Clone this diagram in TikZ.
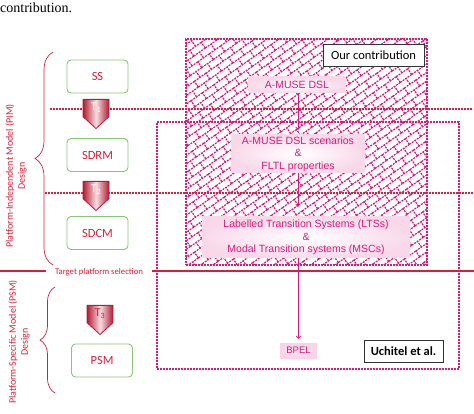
\documentclass[tikz,border=0pt]{standalone}
\usepackage{fontspec}
\setmainfont{Liberation Serif}
\setsansfont{Carlito}
\newfontfamily\arialfont{Liberation Sans}
\definecolor{pimred}{HTML}{D1213D}
\definecolor{boxgreen}{HTML}{86C873}
\definecolor{musemag}{HTML}{D01C7E}
\definecolor{glowpink}{HTML}{F6C9E0}
\usepackage{tikz}
\usetikzlibrary{positioning,arrows.meta,shapes.symbols,decorations.pathreplacing,patterns.meta}

\tikzdeclarepattern{
  name=slantbricks,
  type=colored,
  bounding box={(-1pt,-1pt) and (15pt,15pt)},
  tile size={(14pt,14pt)},
  tile transformation={rotate=35},
  code={
    \draw[musemag, line width=1.2pt] (0pt,0pt) -- (14pt,0pt) (0pt,7pt) -- (14pt,7pt)
      (0pt,0pt) -- (0pt,7pt) (7pt,7pt) -- (7pt,14pt);
  }
}

\begin{document}
\begin{tikzpicture}[x=1pt, y=-1pt,
  every node/.style={font=\sffamily},
  model/.style={rectangle, rounded corners=4pt, draw=boxgreen, line width=0.9pt,
                fill=white, text=pimred, minimum width=61pt, minimum height=33pt,
                font=\sffamily\fontsize{12.5}{14}\selectfont},
  trans/.style={signal, signal to=south, signal pointer angle=95,
                draw=pimred!85!black, line width=0.8pt, left color=pimred!85!black,
                right color=pimred!85!black, middle color=pimred!15, text=white,
                minimum width=26pt, minimum height=22pt, inner sep=0pt,
                font=\sffamily\fontsize{12}{14}\selectfont},
  phase/.style={rotate=90, align=center, text=pimred,
                font=\sffamily\fontsize{10}{12}\selectfont},
  brace/.style={decorate, decoration={brace, amplitude=17pt}, draw=pimred,
                line width=0.7pt},
  sepline/.style={pimred, dash pattern=on 2pt off 1pt, line width=1.3pt},
  frame/.style={draw, color=musemag, dash pattern=on 2pt off 1pt, line width=1.1pt},
  glow/.style={rectangle, inner color=white, outer color=glowpink!70, text=musemag,
               align=center, inner sep=1pt,
               font=\arialfont\fontsize{10.5}{12.5}\selectfont},
  tag/.style={rectangle, draw=black!80, fill=white, line width=0.8pt,
              minimum height=22pt, font=\sffamily\fontsize{12.5}{14}\selectfont},
  arr/.style={-{To[length=3pt,width=5pt]}, musemag, line width=0.8pt}
]
  \useasboundingbox (0,0) rectangle (474,414);

  \node[anchor=base west, inner sep=0pt, font=\rmfamily\fontsize{14}{16}\selectfont]
    (cap) at (0,13) {contribution.};

  \node[phase] (pim) at (16,176) {Platform-Independent Model (PIM)\\Design};
  \node[phase] (psm) at (19,342) {Platform-Specific Model (PSM)\\Design};
  \draw[brace, decoration={amplitude=18pt}] (53,265) -- (53,52);
  \draw[brace, decoration={amplitude=15pt}] (55,393) -- (55,287);

  \node[frame, pattern=slantbricks, minimum width=241pt,
        minimum height=226pt] (ours) at (306.5,152) {};
  \node[frame, minimum width=302pt, minimum height=247pt] (uch) at (308,245.5) {};

  \coordinate (t1l) at (50,109);  \coordinate (t1r) at (473,109);
  \coordinate (t2l) at (45,193);  \coordinate (t2r) at (473,193);
  \coordinate (tpl) at (0,271);   \coordinate (tpr) at (474,271);
  \draw[sepline] (t1l) -- (t1r);
  \draw[sepline] (t2l) -- (t2r);
  \draw[pimred, line width=1.1pt] (tpl) -- (tpr);
  \node[fill=white, text=pimred, inner xsep=9pt, inner ysep=1pt,
        font=\sffamily\fontsize{8.7}{10}\selectfont]
    (tps) at (99,272) {Target platform selection};

  \node[model] (ss)   at (97.5,76.5) {SS};
  \node[model] (sdrm) at (97.5,155)  {SDRM};
  \node[model] (sdcm) at (97.5,233)  {SDCM};
  \node[model] (psmm) at (102,360.5) {PSM};

  \node[trans] (t1) at (96,108) {T\textsubscript{1}};
  \node[trans] (t2) at (96,190) {T\textsubscript{2}};
  \node[trans, text=pimred] (t3) at (100,314) {T\textsubscript{3}};

  \node[tag, minimum width=101pt] (ourtag) at (373.5,55) {Our contribution};
  \node[tag, minimum width=79pt, font=\sffamily\bfseries\fontsize{12.5}{14}\selectfont]
    (uchtag) at (403.5,351) {Uchitel et al.};

  \node[glow, minimum width=97pt, minimum height=16pt] (dsl) at (297,85) {A-MUSE DSL};
  \node[glow, minimum width=133pt, minimum height=38pt] (scen) at (298,154)
    {A-MUSE DSL scenarios\\\&\\FLTL properties};
  \node[glow, minimum width=208pt, minimum height=41pt] (lts) at (306,237.5)
    {Labelled Transition Systems (LTSs)\\\&\\Modal Transition systems (MSCs)};
  \node[glow, inner color=glowpink!50, outer color=glowpink!80, minimum width=37pt,
        minimum height=15pt, font=\arialfont\fontsize{9.5}{11}\selectfont]
    (bpel) at (298.5,350.5) {BPEL};

  \draw[arr, shorten >=5pt] (dsl.south -| scen.north) -- (scen.north);
  \draw[arr, shorten >=10pt] (scen.south) -- (scen.south |- lts.north);
  \draw[arr, shorten >=4pt] (bpel.north |- lts.south) -- (bpel.north);
\end{tikzpicture}
\end{document}
